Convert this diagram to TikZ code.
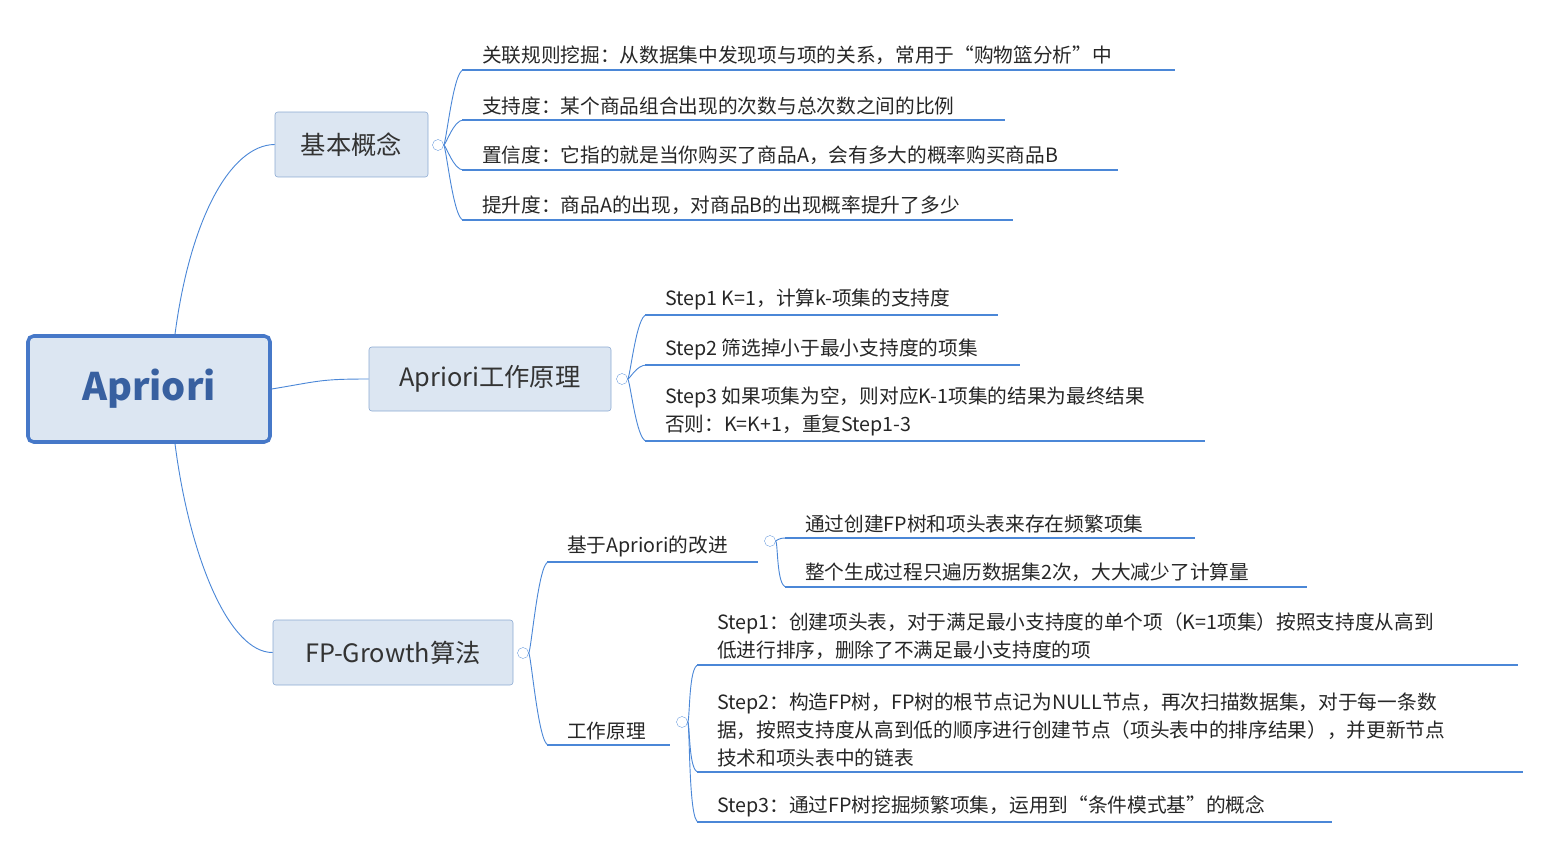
\documentclass[tikz,border=0pt]{standalone}
\usepackage{fontspec}
\setmainfont{Noto Sans CJK SC}
\usetikzlibrary{positioning}
\definecolor{boxfill}{RGB}{220,230,242}
\definecolor{boxline}{RGB}{140,170,210}
\definecolor{rootline}{RGB}{70,120,200}
\definecolor{branch}{RGB}{75,135,215}

\tikzset{
  topic/.style={draw=boxline,thick,fill=boxfill,rounded corners=4pt,inner sep=0pt,font=\fontsize{36}{40}\selectfont,text=black!80},
  fold/.style={circle,draw=branch,thin,fill=white,inner sep=0pt,minimum size=0.55cm},
  leaftext/.style={anchor=south west,inner sep=0pt,align=left,font=\fontsize{28}{40}\selectfont,text=black!85},
  underline/.style={draw=branch,line width=4pt},
  link/.style={draw=branch,line width=1.3pt}
}
% underline, text and link for one leaf
\newcommand{\leaf}[6]{%
  \coordinate (#1) at (#3,#5);
  \draw[underline] (#1) -- (#4,#5);
  \node[leaftext] (#1t) at ([shift={(20,-5)}]#1) {#6};
  \draw[link] (#2) .. controls +(8,0) and +(-10,0) .. ([xshift=2pt]#1);
}

\begin{document}
\begin{tikzpicture}[x=0.05cm,y=-0.05cm]
\useasboundingbox (0,0) rectangle (1552,849);

\node[draw=rootline,line width=5pt,fill=boxfill,rounded corners=8pt,minimum width=12.1cm,minimum height=5.3cm,
  font=\fontsize{54}{60}\selectfont\bfseries,text=rootline!80!black] (root) at (149,389) {Apriori};

\node[topic,minimum width=7.65cm,minimum height=3.25cm] (basic) at (351.5,144.5) {基本概念};
\node[topic,minimum width=12.1cm,minimum height=3.2cm] (work) at (490,379) {Apriori工作原理};
\node[topic,minimum width=12cm,minimum height=3.25cm] (fp) at (393,652.5) {FP-Growth算法};

\node[fold] (basicf) at (438,145) {};
\node[fold] (workf) at (622,379) {};
\node[fold] (fpf) at (523,653) {};

\draw[link] (root.north) ++(26,0) coordinate (r1) .. controls (190,220) and (230,145) .. (basic.west);
\draw[link] (root.east) .. controls (320,381) and (320,379) .. (work.west);
\draw[link] (root.south) ++(26,0) coordinate (r3) .. controls (190,560) and (230,653) .. (fp.west);

% basic concepts
\leaf{b1}{basicf}{462}{1175}{70}{关联规则挖掘：从数据集中发现项与项的关系，常用于“购物篮分析”中}
\leaf{b2}{basicf}{462}{1005}{120}{支持度：某个商品组合出现的次数与总次数之间的比例}
\leaf{b3}{basicf}{462}{1118}{170}{置信度：它指的就是当你购买了商品A，会有多大的概率购买商品B}
\leaf{b4}{basicf}{462}{1013}{220}{提升度：商品A的出现，对商品B的出现概率提升了多少}

% working principle
\leaf{w1}{workf}{645}{998}{315}{Step1 K=1，计算k-项集的支持度}
\leaf{w2}{workf}{645}{1020}{365}{Step2 筛选掉小于最小支持度的项集}
\leaf{w3}{workf}{645}{1205}{441}{Step3 如果项集为空，则对应K-1项集的结果为最终结果\\否则：K=K+1，重复Step1-3}

% FP-Growth
\leaf{f1}{fpf}{547}{758}{562}{基于Apriori的改进}
\leaf{f2}{fpf}{547}{670}{745}{工作原理}
\node[fold] (f1f) at (770,541) {};
\node[fold] (f2f) at (682,722) {};

\leaf{i1}{f1f}{785}{1195}{538}{通过创建FP树和项头表来存在频繁项集}
\leaf{i2}{f1f}{785}{1307}{587}{整个生成过程只遍历数据集2次，大大减少了计算量}

\leaf{s1}{f2f}{697}{1518}{665}{Step1：创建项头表，对于满足最小支持度的单个项（K=1项集）按照支持度从高到\\低进行排序，删除了不满足最小支持度的项}
\leaf{s2}{f2f}{697}{1523}{772}{Step2：构造FP树，FP树的根节点记为NULL节点，再次扫描数据集，对于每一条数\\据，按照支持度从高到低的顺序进行创建节点（项头表中的排序结果），并更新节点\\技术和项头表中的链表}
\leaf{s3}{f2f}{697}{1332}{822}{Step3：通过FP树挖掘频繁项集，运用到“条件模式基”的概念}
\end{tikzpicture}
\end{document}
